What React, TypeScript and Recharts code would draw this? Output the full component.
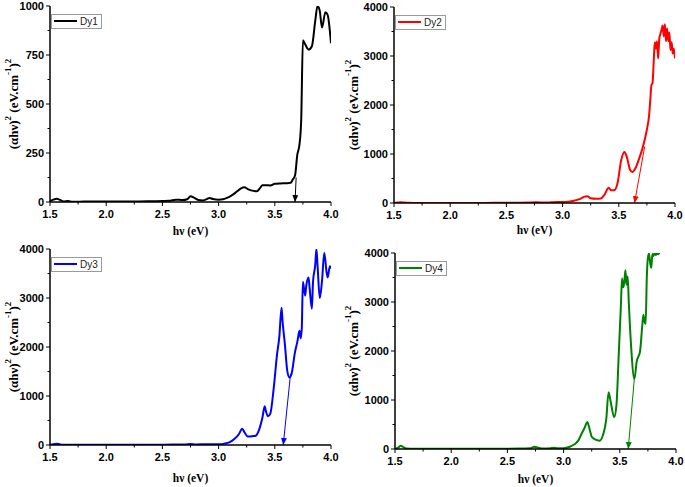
import React from 'react'
import { LineChart, Line, XAxis, YAxis, Legend } from 'recharts'

// photon energy ticks (major every 0.5, minor in between)
const energyTicks = [1.5, 1.75, 2, 2.25, 2.5, 2.75, 3, 3.25, 3.5, 3.75, 4]
const dy1Ticks = [0, 125, 250, 375, 500, 625, 750, 875, 1000]
const wideTicks = [0, 500, 1000, 1500, 2000, 2500, 3000, 3500, 4000]

const dy1Energy = [1.5, 1.53, 1.56, 1.59, 1.62, 1.66, 1.7, 1.8, 1.9, 2.0, 2.1, 2.2, 2.3, 2.4, 2.5, 2.56, 2.62, 2.68, 2.72, 2.75, 2.78, 2.82, 2.86, 2.9, 2.92, 2.95, 3.0, 3.04, 3.08, 3.12, 3.16, 3.2, 3.23, 3.26, 3.3, 3.34, 3.37, 3.39, 3.43, 3.46, 3.5, 3.55, 3.6, 3.64, 3.66, 3.68, 3.7, 3.72, 3.735, 3.75, 3.77, 3.8, 3.83, 3.86, 3.88, 3.9, 3.92, 3.95, 3.97, 4.0]
const dy1Values = [5, 12, 16, 11, 3, 5, 1, 2, 3, 3, 3, 3, 3, 4, 5, 6, 12, 10, 14, 29, 22, 10, 8, 16, 21, 15, 12, 14, 22, 35, 52, 70, 75, 66, 58, 55, 72, 86, 86, 84, 93, 95, 96, 98, 115, 135, 240, 295, 420, 825, 805, 778, 795, 925, 1000, 975, 890, 968, 955, 810]

const dy2Energy = [1.5, 1.53, 1.56, 1.59, 1.63, 1.7, 1.8, 2.0, 2.2, 2.4, 2.6, 2.7, 2.75, 2.8, 2.85, 2.9, 2.95, 3.0, 3.05, 3.1, 3.15, 3.19, 3.22, 3.25, 3.3, 3.34, 3.37, 3.41, 3.43, 3.46, 3.49, 3.52, 3.55, 3.57, 3.6, 3.62, 3.65, 3.68, 3.71, 3.75, 3.77, 3.78, 3.79, 3.8, 3.81, 3.82, 3.83, 3.84, 3.85, 3.86, 3.87, 3.88, 3.89, 3.9, 3.91, 3.92, 3.93, 3.94, 3.95, 3.96, 3.97, 3.98, 3.99, 4.0]
const dy2Values = [5, 10, 15, 8, 3, 2, 2, 2, 2, 3, 5, 8, 15, 12, 10, 15, 18, 20, 28, 45, 78, 125, 138, 95, 85, 92, 160, 310, 262, 262, 420, 860, 1040, 950, 680, 635, 720, 900, 1110, 1500, 1800, 2100, 2400, 2450, 2850, 3280, 3150, 3300, 2950, 3350, 3450, 3530, 3620, 3400, 3650, 3300, 3560, 3300, 3480, 3120, 3280, 3050, 3150, 2950]

const dy3Energy = [1.5, 1.53, 1.56, 1.59, 1.63, 1.7, 1.8, 2.0, 2.2, 2.4, 2.6, 2.7, 2.75, 2.8, 2.9, 2.95, 3.0, 3.05, 3.1, 3.14, 3.18, 3.21, 3.23, 3.26, 3.3, 3.33, 3.36, 3.39, 3.41, 3.42, 3.44, 3.46, 3.49, 3.52, 3.54, 3.56, 3.57, 3.59, 3.61, 3.63, 3.65, 3.68, 3.7, 3.72, 3.73, 3.74, 3.75, 3.77, 3.78, 3.8, 3.81, 3.83, 3.84, 3.86, 3.87, 3.88, 3.9, 3.92, 3.94, 3.96, 3.97, 3.99, 4.0]
const dy3Values = [5, 15, 28, 12, 4, 3, 3, 3, 3, 4, 8, 10, 22, 12, 15, 13, 15, 28, 60, 120, 220, 330, 260, 175, 180, 190, 310, 560, 790, 700, 585, 640, 1150, 1850, 2200, 2800, 2500, 2050, 1530, 1380, 1460, 1900, 2100, 2330, 2180, 2380, 3330, 3050, 3250, 3420, 3200, 2780, 3330, 3680, 4000, 3680, 3000, 3350, 3920, 3540, 3420, 3650, 3600]

const dy4Energy = [1.5, 1.53, 1.55, 1.57, 1.6, 1.65, 1.7, 1.8, 2.0, 2.2, 2.4, 2.6, 2.7, 2.74, 2.77, 2.82, 2.88, 2.91, 2.95, 3.0, 3.05, 3.1, 3.13, 3.16, 3.19, 3.21, 3.23, 3.25, 3.28, 3.32, 3.35, 3.38, 3.4, 3.42, 3.45, 3.47, 3.49, 3.51, 3.52, 3.53, 3.54, 3.55, 3.56, 3.57, 3.58, 3.6, 3.63, 3.65, 3.68, 3.7, 3.71, 3.72, 3.73, 3.74, 3.75, 3.76, 3.77, 3.78, 3.79, 3.8, 3.81, 3.82, 3.83, 3.84, 3.85, 3.86, 3.9, 3.95, 4.0]
const dy4Values = [5, 30, 65, 45, 10, 5, 3, 3, 3, 3, 4, 8, 15, 45, 30, 10, 15, 27, 15, 15, 40, 100, 170, 310, 450, 550, 420, 250, 195, 170, 280, 620, 1160, 950, 650, 890, 1900, 2950, 3480, 3300, 3400, 3650, 3350, 3520, 3000, 2120, 1430, 1780, 1990, 2520, 2740, 2600, 2550, 3480, 3900, 3990, 3800, 3700, 3980, 3940, 3995, 3960, 3990, 3975, 3995, 4100, 4400, 4600, 4700]

// band-gap extrapolation arrows: [start on curve, end on axis]
const dy1ArrowEnergy = [3.69, 3.68]
const dy1ArrowValues = [125, 0]
const dy2ArrowEnergy = [3.73, 3.64]
const dy2ArrowValues = [1150, 0]
const dy3ArrowEnergy = [3.64, 3.575]
const dy3ArrowValues = [1450, 0]
const dy4ArrowEnergy = [3.63, 3.575]
const dy4ArrowValues = [1450, 0]

const zip = (xs: number[], ys: number[]) => xs.map((x, i) => ({ x, y: ys[i] }))

const tickFont = "Arial, 'Liberation Sans', sans-serif"
const titleFont = "'Times New Roman', 'Liberation Serif', serif"

function XTick(props: any) {
    const { x, y, payload } = props
    const v = payload.value
    const major = Math.abs(v * 2 - Math.round(v * 2)) < 1e-6
    return (
        <g>
            <line x1={x} x2={x} y1={y} y2={y + (major ? 4 : 2.5)} stroke="#000" strokeWidth={1} />
            {major && (
                <text x={x} y={y + 15.5} textAnchor="middle" fontFamily={tickFont} fontWeight="bold" fontSize={11} fill="#000">
                    {v.toFixed(1)}
                </text>
            )}
        </g>
    )
}

function YTick(props: any) {
    const { x, y, payload, major } = props
    const v = payload.value
    const isMajor = v % major === 0
    return (
        <g>
            <line x1={x - (isMajor ? 4 : 2.5)} x2={x} y1={y} y2={y} stroke="#000" strokeWidth={1} />
            {isMajor && (
                <text x={x - 6} y={y} dy="0.36em" textAnchor="end" fontFamily={tickFont} fontWeight="bold" fontSize={11} fill="#000">
                    {v}
                </text>
            )}
        </g>
    )
}

function XTitle(props: any) {
    const { viewBox, dy } = props
    if (!viewBox) return null
    return (
        <text x={viewBox.x + viewBox.width / 2} y={viewBox.y + dy} textAnchor="middle" fontFamily={titleFont} fontWeight="bold" fontSize={11.5} fill="#000">
            hν (eV)
        </text>
    )
}

function YTitle(props: any) {
    const { viewBox } = props
    if (!viewBox) return null
    const cx = viewBox.x + 13
    const cy = viewBox.y + viewBox.height / 2
    return (
        <text x={cx} y={cy} transform={`rotate(-90 ${cx} ${cy})`} textAnchor="middle" dominantBaseline="central" fontFamily={titleFont} fontWeight="bold" fontSize={13} fill="#000">
            (αhν)<tspan dy={-5} fontSize={9}>2</tspan>
            <tspan dy={5}> (eV.cm</tspan>
            <tspan dy={-5} fontSize={9}>-1</tspan>
            <tspan dy={5}>)</tspan>
            <tspan dy={-5} fontSize={9}>2</tspan>
        </text>
    )
}

function LegendBox(props: any) {
    const entries = (props.payload || []).filter((e: any) => e.type !== 'none')
    return (
        <div style={{ display: 'inline-flex', alignItems: 'center', border: '1px solid #9a9a9a', background: '#fff', height: 13, padding: '0 3px 0 2px' }}>
            {entries.map((e: any) => (
                <React.Fragment key={e.value}>
                    <span style={{ display: 'inline-block', width: 23, height: 2, background: e.color, marginRight: 3 }} />
                    <span style={{ fontFamily: tickFont, fontSize: 10, color: '#222', lineHeight: '13px' }}>{e.value}</span>
                </React.Fragment>
            ))}
        </div>
    )
}

type PanelProps = {
    name: string
    color: string
    markerId: string
    energy: number[]
    values: number[]
    arrowEnergy: number[]
    arrowValues: number[]
    yMax: number
    yTicks: number[]
    yMajor: number
    left: number
    top: number
    width: number
    height: number
    marginTop: number
    marginRight: number
    yAxisWidth: number
    xAxisHeight: number
    xTitleDy: number
}

function Panel(p: PanelProps) {
    const series = zip(p.energy, p.values)
    const arrow = zip(p.arrowEnergy, p.arrowValues)
    return (
        <div style={{ position: 'absolute', left: p.left, top: p.top, width: p.width, height: p.height }}>
            <LineChart width={p.width} height={p.height} margin={{ top: p.marginTop, right: p.marginRight, left: 0, bottom: 0 }}>
                <XAxis
                    type="number"
                    dataKey="x"
                    domain={[1.5, 4]}
                    ticks={energyTicks}
                    interval={0}
                    tickSize={0}
                    tickMargin={0}
                    tickLine={false}
                    tick={<XTick />}
                    height={p.xAxisHeight}
                    axisLine={{ stroke: '#000', strokeWidth: 1.5 }}
                    allowDataOverflow
                    label={<XTitle dy={p.xTitleDy} />}
                />
                <XAxis xAxisId="top" orientation="top" type="number" domain={[1.5, 4]} height={0} tick={false} tickLine={false} axisLine={{ stroke: '#9a9a9a', strokeWidth: 1 }} />
                <YAxis
                    type="number"
                    domain={[0, p.yMax]}
                    ticks={p.yTicks}
                    interval={0}
                    tickSize={0}
                    tickMargin={0}
                    tickLine={false}
                    tick={<YTick major={p.yMajor} />}
                    width={p.yAxisWidth}
                    axisLine={{ stroke: '#000', strokeWidth: 1.5 }}
                    allowDataOverflow
                    label={<YTitle />}
                />
                <YAxis yAxisId="right" orientation="right" type="number" domain={[0, p.yMax]} width={0} tick={false} tickLine={false} axisLine={{ stroke: '#9a9a9a', strokeWidth: 1 }} />
                <Line
                    data={series}
                    dataKey="y"
                    name={p.name}
                    type="monotone"
                    stroke={p.color}
                    strokeWidth={2}
                    dot={false}
                    activeDot={false}
                    isAnimationActive={false}
                />
                <Line
                    data={arrow}
                    dataKey="y"
                    name={p.name + ' gap'}
                    type="linear"
                    stroke={p.color}
                    strokeWidth={1}
                    dot={false}
                    activeDot={false}
                    legendType="none"
                    markerEnd={`url(#${p.markerId})`}
                    isAnimationActive={false}
                />
                <Legend
                    layout="horizontal"
                    verticalAlign="middle"
                    align="center"
                    content={<LegendBox />}
                    wrapperStyle={{ left: p.yAxisWidth + 1, top: p.marginTop + 2, width: 'auto', height: 'auto' }}
                />
            </LineChart>
        </div>
    )
}

const markers = [
    { id: 'arrow-dy1', color: '#000000' },
    { id: 'arrow-dy2', color: '#ff0000' },
    { id: 'arrow-dy3', color: '#0000ff' },
    { id: 'arrow-dy4', color: '#008000' },
]

export default function App() {
    return (
        <div style={{ position: 'absolute', left: 0, top: 0, width: 685, height: 487, background: '#fff', overflow: 'hidden' }}>
            <svg width={0} height={0} style={{ position: 'absolute' }}>
                <defs>
                    {markers.map((m) => (
                        <marker key={m.id} id={m.id} viewBox="0 0 10 10" refX={10} refY={5} markerWidth={7} markerHeight={6} markerUnits="userSpaceOnUse" orient="auto" preserveAspectRatio="none">
                            <path d="M0,0 L10,5 L0,10 z" fill={m.color} />
                        </marker>
                    ))}
                </defs>
            </svg>
            <Panel name="Dy1" color="#000000" markerId="arrow-dy1" energy={dy1Energy} values={dy1Values} arrowEnergy={dy1ArrowEnergy} arrowValues={dy1ArrowValues}
                yMax={1000} yTicks={dy1Ticks} yMajor={250} left={0} top={0} width={342} height={240} marginTop={6} marginRight={11} yAxisWidth={50} xAxisHeight={38} xTitleDy={33} />
            <Panel name="Dy2" color="#ff0000" markerId="arrow-dy2" energy={dy2Energy} values={dy2Values} arrowEnergy={dy2ArrowEnergy} arrowValues={dy2ArrowValues}
                yMax={4000} yTicks={wideTicks} yMajor={1000} left={340} top={0} width={345} height={240} marginTop={7} marginRight={10} yAxisWidth={54} xAxisHeight={37} xTitleDy={31} />
            <Panel name="Dy3" color="#0000ff" markerId="arrow-dy3" energy={dy3Energy} values={dy3Values} arrowEnergy={dy3ArrowEnergy} arrowValues={dy3ArrowValues}
                yMax={4000} yTicks={wideTicks} yMajor={1000} left={0} top={240} width={342} height={247} marginTop={9} marginRight={11} yAxisWidth={50} xAxisHeight={42} xTitleDy={37} />
            <Panel name="Dy4" color="#008000" markerId="arrow-dy4" energy={dy4Energy} values={dy4Values} arrowEnergy={dy4ArrowEnergy} arrowValues={dy4ArrowValues}
                yMax={4000} yTicks={wideTicks} yMajor={1000} left={340} top={240} width={345} height={247} marginTop={13} marginRight={9} yAxisWidth={55} xAxisHeight={38} xTitleDy={34} />
        </div>
    )
}
